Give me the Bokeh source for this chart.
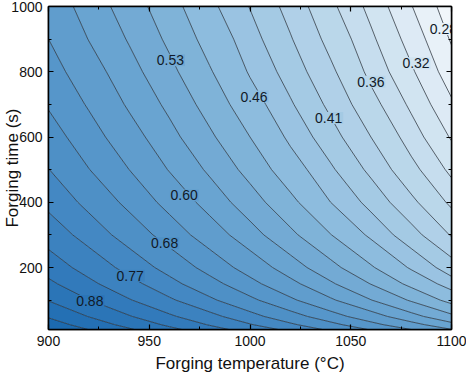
import numpy as np
from bokeh.plotting import figure
from bokeh.embed import file_html
from bokeh.resources import INLINE
from bokeh.models import LinearAxis, Range1d, SingleIntervalTicker, ColumnDataSource
from bokeh.core.properties import value

# Forging temperature (°C) grid and forging time (s) grid
temperature = [900, 920, 940, 960, 980, 1000, 1020, 1040, 1060, 1080, 1100]
time_s = [10, 25, 50, 100, 150, 200, 300, 400, 500, 600, 700, 800, 900, 1000]

# Field values (one row per forging time, columns follow temperature)
z_t10 = [1.053, 0.999, 0.947, 0.895, 0.847, 0.801, 0.757, 0.717, 0.677, 0.640, 0.601]
z_t25 = [1.029, 0.974, 0.921, 0.869, 0.821, 0.773, 0.732, 0.691, 0.652, 0.612, 0.575]
z_t50 = [0.994, 0.938, 0.884, 0.834, 0.784, 0.740, 0.697, 0.657, 0.616, 0.577, 0.538]
z_t100 = [0.937, 0.881, 0.829, 0.777, 0.733, 0.689, 0.647, 0.605, 0.566, 0.526, 0.483]
z_t150 = [0.892, 0.838, 0.786, 0.739, 0.695, 0.652, 0.610, 0.570, 0.529, 0.486, 0.446]
z_t200 = [0.856, 0.803, 0.753, 0.709, 0.665, 0.623, 0.582, 0.541, 0.499, 0.456, 0.422]
z_t300 = [0.800, 0.750, 0.706, 0.662, 0.620, 0.579, 0.538, 0.496, 0.454, 0.420, 0.383]
z_t400 = [0.757, 0.713, 0.669, 0.627, 0.586, 0.546, 0.504, 0.460, 0.427, 0.391, 0.355]
z_t500 = [0.726, 0.681, 0.640, 0.598, 0.559, 0.518, 0.475, 0.439, 0.404, 0.367, 0.335]
z_t600 = [0.699, 0.657, 0.616, 0.576, 0.536, 0.495, 0.454, 0.420, 0.385, 0.350, 0.318]
z_t700 = [0.676, 0.636, 0.595, 0.557, 0.516, 0.474, 0.438, 0.404, 0.368, 0.336, 0.303]
z_t800 = [0.657, 0.617, 0.578, 0.539, 0.498, 0.457, 0.424, 0.390, 0.354, 0.323, 0.289]
z_t900 = [0.640, 0.599, 0.562, 0.523, 0.482, 0.445, 0.412, 0.377, 0.344, 0.312, 0.278]
z_t1000 = [0.624, 0.585, 0.548, 0.509, 0.467, 0.434, 0.401, 0.365, 0.334, 0.301, 0.268]

# Contour levels
levels = [0.20, 0.262, 0.28, 0.30, 0.32, 0.34, 0.36, 0.385, 0.41, 0.435, 0.46, 0.495,
          0.53, 0.565, 0.60, 0.64, 0.68, 0.725, 0.77, 0.825, 0.88, 0.94, 1.00, 1.10]

# Inline contour labels
label_text = ["0.88", "0.77", "0.68", "0.60", "0.53", "0.46", "0.41", "0.36", "0.32", "0.28"]
label_level = [0.88, 0.77, 0.68, 0.60, 0.53, 0.46, 0.41, 0.36, 0.32, 0.28]
label_T = [920.5, 940.5, 957.6, 967.3, 960.5, 1002, 1039, 1060, 1082.4, 1096]
label_t = [97, 175, 274, 421, 835, 724, 658, 769, 826, 931]

Z = np.array([z_t10, z_t25, z_t50, z_t100, z_t150, z_t200, z_t300, z_t400,
              z_t500, z_t600, z_t700, z_t800, z_t900, z_t1000])

# colour ramp (style): white -> blue
anchor_z = [0.25, 0.29, 0.36, 0.46, 0.53, 0.60, 0.68, 0.77, 0.88, 1.05]
anchor_rgb = [(250, 252, 253), (232, 241, 248), (192, 218, 236), (148, 192, 224), (120, 174, 214),
              (100, 160, 207), (82, 147, 200), (64, 133, 193), (46, 119, 185), (28, 106, 176)]
def ramp(zv):
    c = [int(round(np.interp(zv, anchor_z, [a[i] for a in anchor_rgb]))) for i in range(3)]
    return "#%02x%02x%02x" % tuple(c)
pal = [ramp(0.5 * (levels[i] + levels[i + 1])) for i in range(len(levels) - 1)]

p = figure(width=466, height=376, output_backend="svg", toolbar_location=None,
           x_range=Range1d(900, 1100), y_range=Range1d(10, 1000),
           min_border_left=47, min_border_right=15, min_border_top=6, min_border_bottom=47)
p.contour(temperature, time_s, Z, levels, fill_color=pal, line_color="#222a33",
          line_width=0.8, line_alpha=0.9)

bg = [pal[levels.index(l)] for l in label_level]
src = ColumnDataSource(dict(x=label_T, y=label_t, text=label_text, bg=bg))
p.text(x="x", y="y", text="text", source=src, text_align="center", text_baseline="middle",
       text_font=value("Liberation Sans"), text_font_size="14px", text_color="#111a28",
       background_fill_color="bg", padding=1)

p.grid.visible = False
p.outline_line_color = "black"
p.outline_line_width = 1.5
p.xaxis.axis_label = "Forging temperature (°C)"
p.yaxis.axis_label = "Forging time (s)"

top = LinearAxis()
right = LinearAxis()
p.add_layout(top, "above")
p.add_layout(right, "right")

for ax in p.xaxis:
    ax.ticker = SingleIntervalTicker(interval=50, num_minor_ticks=2)
for ax in p.yaxis:
    ax.ticker = SingleIntervalTicker(interval=200, num_minor_ticks=2)
for ax in p.axis:
    ax.major_label_text_font = "Liberation Sans"
    ax.major_label_text_font_size = "14px"
    ax.major_label_text_color = "#111111"
    ax.axis_label_text_font = "Liberation Sans"
    ax.axis_label_text_font_size = "17px"
    ax.axis_label_text_font_style = "normal"
    ax.axis_label_text_color = "#111111"
    ax.major_tick_in = 5
    ax.major_tick_out = 0
    ax.minor_tick_in = 3
    ax.minor_tick_out = 0
    ax.major_label_standoff = 6
    ax.axis_line_width = 1.5
    ax.major_tick_line_width = 1.2
for ax in (top, right):
    ax.major_label_text_font_size = "1px"
    ax.major_label_text_color = None
    ax.major_label_standoff = 0
p.yaxis[0].axis_label_standoff = -14
p.xaxis[0].axis_label_standoff = 6

open("out.html", "w").write(file_html(p, INLINE))
